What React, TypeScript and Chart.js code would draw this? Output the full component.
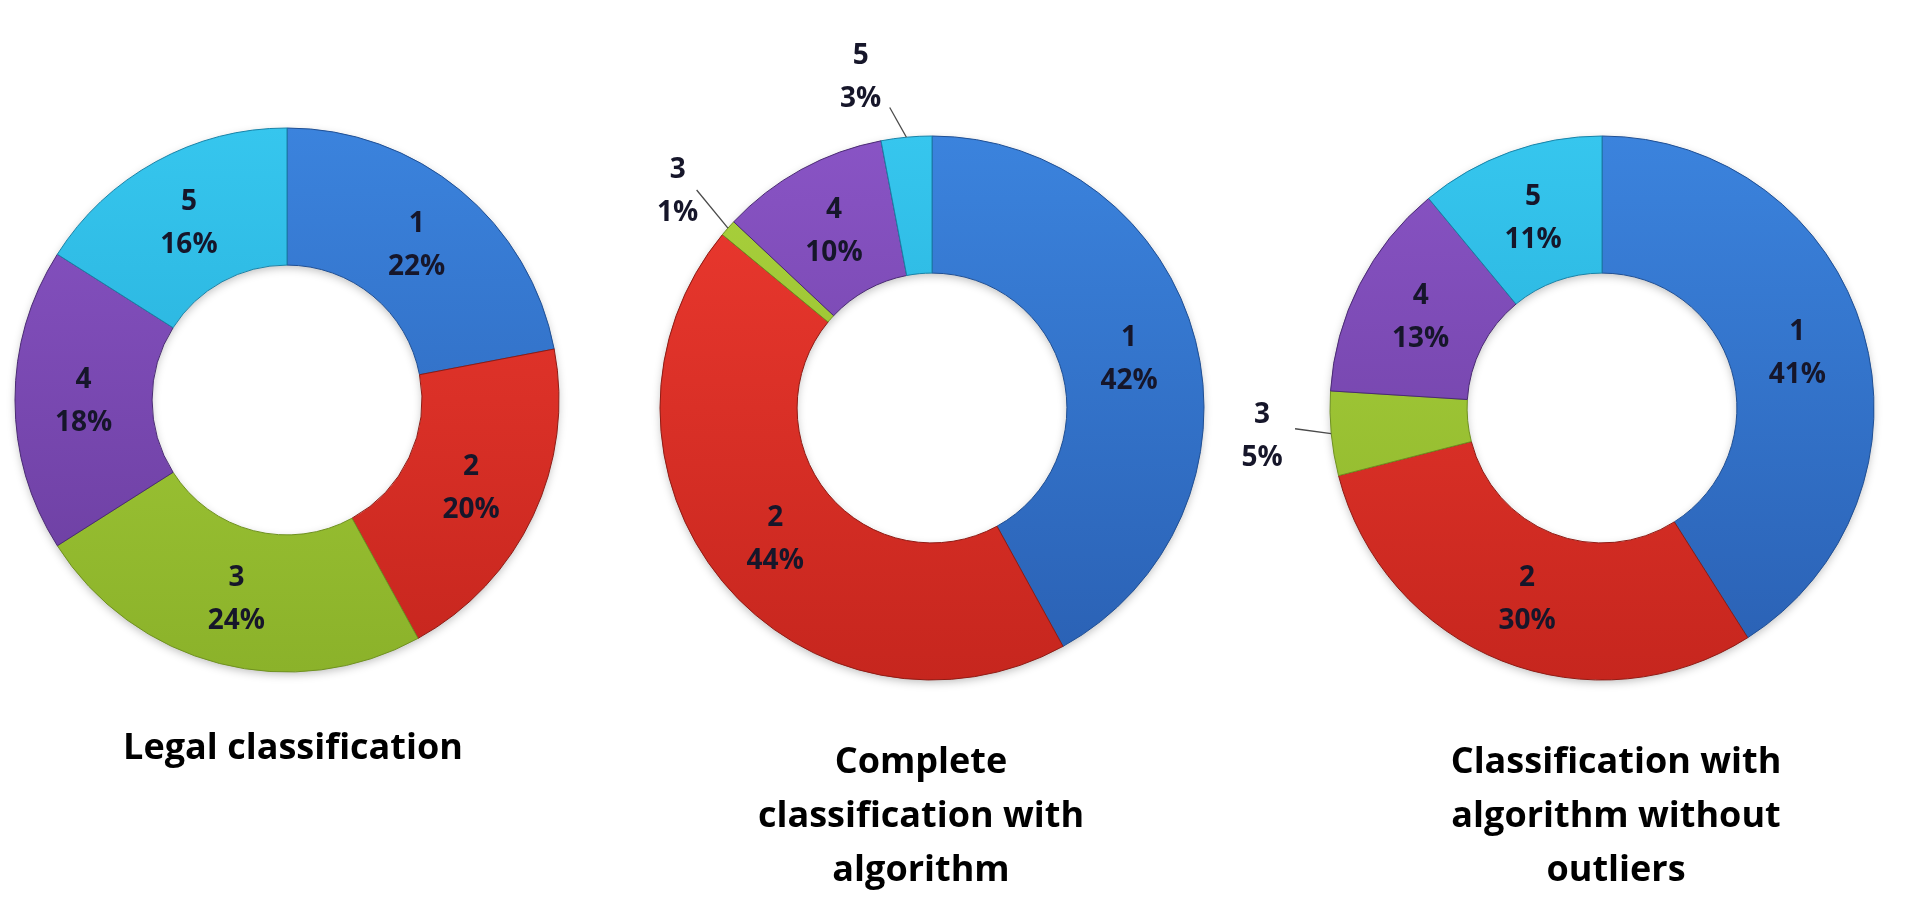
import React, { useEffect, useRef } from 'react';
import { Chart, registerables } from 'chart.js';

Chart.register(...registerables);

// ---- data ----
const categories = ['1', '2', '3', '4', '5'];
const legalValues = [22, 20, 24, 18, 16];
const completeValues = [42, 44, 1, 10, 3];
const outliersValues = [41, 30, 5, 13, 11];

const legalTitle = ['Legal classification'];
const completeTitle = ['Complete', 'classification with', 'algorithm'];
const outliersTitle = ['Classification with', 'algorithm without', 'outliers'];

// ---- styles ----
const sliceLight = ['#3b83dd', '#ee3a30', '#abd33d', '#8954c5', '#36c6ee'];
const sliceDark = ['#2a60b3', '#c6261e', '#8bb22a', '#683c9c', '#1fa3cf'];
const sliceBorder = ['#1f4f94', '#8f1b14', '#6f9120', '#4a2a74', '#1883a8'];

const W = 1912;
const H = 912;
const R = 272;
const LABEL_SIZE = 28;
const LABEL_FONT = 'bold ' + LABEL_SIZE + 'px "Open Sans"';
const LINE_PITCH = 43;
const TITLE_FONT_SIZE = 36;
const TITLE_LINE = 54;

type OutsideCfg = { extra: number; dAngle: number; end: [number, number] };
type Panel = {
  values: number[];
  title: string[];
  cx: number;
  cy: number;
  titleX: number;
  titleBaseline: number;
  outside: Record<number, OutsideCfg>;
};

const panels: Panel[] = [
  { values: legalValues, title: legalTitle, cx: 287, cy: 400, titleX: 293, titleBaseline: 760, outside: {} },
  {
    values: completeValues, title: completeTitle, cx: 932, cy: 408, titleX: 921, titleBaseline: 774,
    outside: {
      2: { extra: 63, dAngle: -0.8, end: [19, 0] },
      4: { extra: 68, dAngle: -6.7, end: [29, 32] },
    },
  },
  {
    values: outliersValues, title: outliersTitle, cx: 1602, cy: 408, titleX: 1616, titleBaseline: 774,
    outside: {
      2: { extra: 69, dAngle: 0.9, end: [33, -6] },
    },
  },
];

function drawLabel(ctx: CanvasRenderingContext2D, x: number, y: number, a: string, b: string) {
  const capHalf = LABEL_SIZE * 0.357;
  ctx.fillText(a, x, y - LINE_PITCH / 2 + capHalf);
  ctx.fillText(b, x, y + LINE_PITCH / 2 + capHalf);
}

function Donut({ panel }: { panel: Panel }) {
  const ref = useRef<HTMLCanvasElement | null>(null);
  useEffect(() => {
    const canvas = ref.current;
    if (!canvas) return;
    const { cx, cy, values, outside } = panel;

    const shadowPlugin = {
      id: 'ringShadow',
      beforeDatasetsDraw(chart: any) {
        const meta = chart.getDatasetMeta(0);
        const arc = meta.data[0];
        if (!arc) return;
        const p = arc.getProps(['x', 'y', 'innerRadius', 'outerRadius'], true);
        const ctx = chart.ctx as CanvasRenderingContext2D;
        ctx.save();
        ctx.shadowColor = 'rgba(0,0,0,0.28)';
        ctx.shadowBlur = 10;
        ctx.shadowOffsetY = 3;
        ctx.beginPath();
        ctx.arc(p.x, p.y, p.outerRadius - 1, 0, Math.PI * 2);
        ctx.arc(p.x, p.y, p.innerRadius + 1, 0, Math.PI * 2, true);
        ctx.fillStyle = '#ffffff';
        ctx.fill();
        ctx.restore();
      },
    };

    const labelPlugin = {
      id: 'sliceLabels',
      afterDatasetsDraw(chart: any) {
        const meta = chart.getDatasetMeta(0);
        const ctx = chart.ctx as CanvasRenderingContext2D;
        ctx.save();
        ctx.font = LABEL_FONT;
        ctx.textAlign = 'center';
        ctx.textBaseline = 'alphabetic';
        ctx.fillStyle = '#16162a';
        meta.data.forEach((el: any, i: number) => {
          const p = el.getProps(['x', 'y', 'startAngle', 'endAngle', 'innerRadius', 'outerRadius'], true);
          const mid = (p.startAngle + p.endAngle) / 2;
          const cat = categories[i];
          const pct = values[i] + '%';
          const o = outside[i];
          if (o) {
            const ang = mid + (o.dAngle * Math.PI) / 180;
            const rr = p.outerRadius + o.extra;
            const lx = p.x + rr * Math.cos(ang);
            const ly = p.y + rr * Math.sin(ang);
            const sx = p.x + p.outerRadius * Math.cos(mid);
            const sy = p.y + p.outerRadius * Math.sin(mid);
            ctx.beginPath();
            ctx.moveTo(sx, sy);
            ctx.lineTo(lx + o.end[0], ly + o.end[1]);
            ctx.strokeStyle = '#4a4a4a';
            ctx.lineWidth = 1.3;
            ctx.stroke();
            drawLabel(ctx, lx, ly, cat, pct);
          } else {
            const rr = (p.innerRadius + p.outerRadius) / 2;
            const lx = p.x + rr * Math.cos(mid);
            const ly = p.y + rr * Math.sin(mid);
            drawLabel(ctx, lx, ly, cat, pct);
          }
        });
        ctx.restore();
      },
    };

    const fillFor = (c: any) => {
      const i = c.dataIndex ?? 0;
      const area = c.chart.chartArea;
      if (!area) return sliceLight[i];
      const g = c.chart.ctx.createLinearGradient(0, area.top, 0, area.bottom);
      g.addColorStop(0, sliceLight[i]);
      g.addColorStop(1, sliceDark[i]);
      return g;
    };

    const chart = new Chart(canvas, {
      type: 'doughnut',
      data: {
        labels: categories,
        datasets: [
          {
            data: values,
            backgroundColor: fillFor as any,
            borderColor: sliceBorder,
            borderWidth: 1,
          },
        ],
      },
      options: {
        responsive: false,
        animation: false,
        events: [],
        cutout: '49.6%',
        layout: {
          padding: {
            left: cx - R - 0.5,
            right: W - cx - R - 0.5,
            top: cy - R - 0.5,
            bottom: H - cy - R - 0.5,
          },
        },
        plugins: {
          legend: { display: false },
          tooltip: { enabled: false },
          title: { display: false },
        },
      } as any,
      plugins: [shadowPlugin, labelPlugin],
    });
    return () => chart.destroy();
  }, [panel]);

  return (
    <canvas
      ref={ref}
      width={W}
      height={H}
      style={{ position: 'absolute', left: 0, top: 0, width: W, height: H }}
    />
  );
}

export default function App() {
  useEffect(() => {
    document.body.style.margin = '0';
  }, []);
  const baselineOffset = (TITLE_LINE - TITLE_FONT_SIZE * 1.362) / 2 + TITLE_FONT_SIZE * 1.069;
  return (
    <div style={{ position: 'fixed', left: 0, top: 0, width: W, height: H, background: '#ffffff', overflow: 'hidden' }}>
      {panels.map((p, i) => (
        <Donut key={i} panel={p} />
      ))}
      {panels.map((p, i) => (
        <div
          key={'t' + i}
          style={{
            position: 'absolute',
            left: p.titleX - 260,
            width: 520,
            top: p.titleBaseline - baselineOffset,
            textAlign: 'center',
            fontFamily: '"Open Sans", sans-serif',
            fontWeight: 700,
            fontSize: TITLE_FONT_SIZE,
            lineHeight: TITLE_LINE + 'px',
            color: '#000',
          }}
        >
          {p.title.map((line, j) => (
            <div key={j}>{line}</div>
          ))}
        </div>
      ))}
    </div>
  );
}
